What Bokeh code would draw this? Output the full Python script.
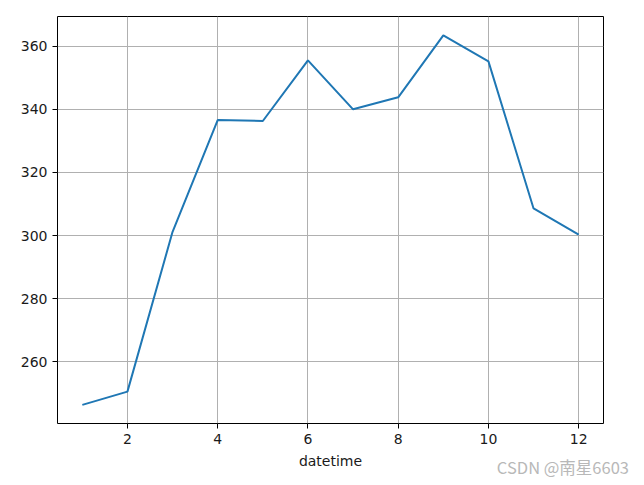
from bokeh.plotting import figure
from bokeh.models import Range1d, FixedTicker, Div
from bokeh.layouts import column
from bokeh.embed import file_html
from bokeh.resources import INLINE

months = [1, 2, 3, 4, 5, 6, 7, 8, 9, 10, 11, 12]
values = [246.4, 250.6, 301.2, 336.6, 336.3, 355.5, 340.0, 343.8, 363.4, 355.2, 308.6, 300.3]
x_ticks = [2, 4, 6, 8, 10, 12]
y_ticks = [260, 280, 300, 320, 340, 360]

W, H = 636, 477
p = figure(width=W, height=H, output_backend="svg", toolbar_location=None,
           x_range=Range1d(0.45, 12.55), y_range=Range1d(240.5, 369.4),
           min_border_left=57, min_border_right=33, min_border_top=16, min_border_bottom=54)
p.background_fill_color = "white"
p.border_fill_color = "white"
p.outline_line_color = "black"
p.outline_line_width = 1

p.line(months, values, line_color="#1f77b4", line_width=2)

for ax in (p.xaxis, p.yaxis):
    ax.axis_line_color = None
    ax.major_tick_line_color = "black"
    ax.major_tick_line_width = 1
    ax.major_tick_out = 5
    ax.major_tick_in = 0
    ax.minor_tick_line_color = None
    ax.major_label_text_font = "DejaVu Sans"
    ax.major_label_text_font_size = "14px"
    ax.major_label_text_color = "#1a1a1a"
    ax.major_label_standoff = 5

p.xaxis.ticker = FixedTicker(ticks=x_ticks)
p.yaxis.ticker = FixedTicker(ticks=y_ticks)
p.xaxis.axis_label = "datetime"
p.xaxis.axis_label_text_font = "DejaVu Sans"
p.xaxis.axis_label_text_font_size = "14px"
p.xaxis.axis_label_text_font_style = "normal"
p.xaxis.axis_label_text_color = "#1a1a1a"
p.xaxis.axis_label_standoff = 6

p.grid.grid_line_color = "#b0b0b0"
p.grid.grid_line_width = 1
p.xgrid.ticker = FixedTicker(ticks=x_ticks)
p.ygrid.ticker = FixedTicker(ticks=y_ticks)

wm = Div(text="CSDN @南星6603", width=W - 12, height=20,
         styles={"text-align": "right", "margin-top": "-20px", "color": "#b8b8b8",
                 "font-family": "Noto Sans CJK SC", "font-size": "16.5px", "line-height": "20px"})

layout = column(p, wm, spacing=0)
open("out.html", "w").write(file_html(layout, INLINE))
